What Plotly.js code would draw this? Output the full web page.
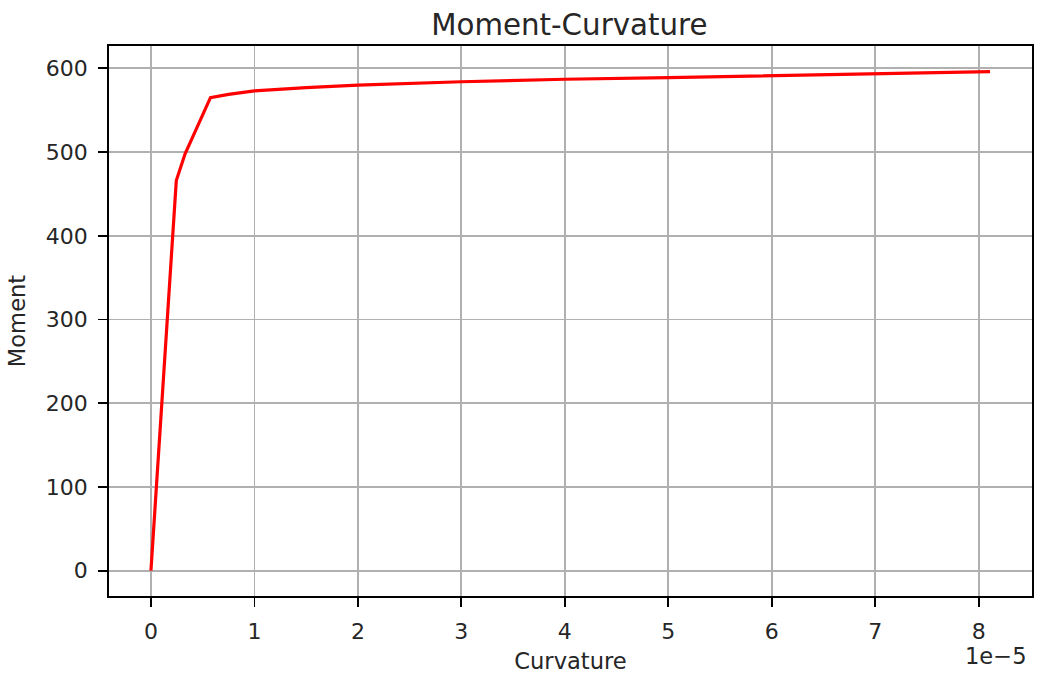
<!DOCTYPE html>
<html>
<head>
<meta charset="utf-8">
<script src="https://cdn.plot.ly/plotly-3.0.1.min.js"></script>
<style>
  html, body { margin: 0; padding: 0; background: #ffffff; }
  #chart { width: 1038px; height: 682px; }
</style>
</head>
<body>
<div id="chart"></div>
<script>
// Data
const curvature = [0, 0.245e-5, 0.33e-5, 0.575e-5, 0.75e-5, 1.0e-5, 1.5e-5, 2.0e-5, 3.0e-5, 4.0e-5, 5.0e-5, 6.0e-5, 7.0e-5, 8.11e-5];
const moment    = [0, 466, 498, 565, 569, 573, 577, 580, 584, 587, 589, 591.5, 594, 596];

const xTickVals = [0, 1e-5, 2e-5, 3e-5, 4e-5, 5e-5, 6e-5, 7e-5, 8e-5];
const xTickText = ['0', '1', '2', '3', '4', '5', '6', '7', '8'];
const yTickVals = [0, 100, 200, 300, 400, 500, 600];
const yTickText = ['0', '100', '200', '300', '400', '500', '600'];

const FONT = 'DejaVu Sans, Verdana, sans-serif';
const TXT = '#262626';

const trace = {
  x: curvature,
  y: moment,
  type: 'scatter',
  mode: 'lines',
  line: { color: '#ff0000', width: 3.2 },
  hoverinfo: 'skip'
};

const axisCommon = {
  showline: true,
  linecolor: '#000000',
  linewidth: 1.8,
  mirror: true,
  showgrid: true,
  gridcolor: '#b0b0b0',
  gridwidth: 1.8,
  zeroline: false,
  ticks: 'outside',
  ticklen: 9,
  tickwidth: 1.8,
  tickcolor: '#000000',
  tickfont: { family: FONT, size: 22, color: TXT }
};

const layout = {
  width: 1038,
  height: 682,
  paper_bgcolor: '#ffffff',
  plot_bgcolor: '#ffffff',
  margin: { l: 109, r: 6, t: 46, b: 86 },
  showlegend: false,
  title: {
    text: 'Moment-Curvature',
    font: { family: FONT, size: 29.3, color: TXT },
    x: 0.5485, xref: 'container', xanchor: 'center',
    y: 0.964, yref: 'container', yanchor: 'middle'
  },
  xaxis: Object.assign({}, axisCommon, {
    range: [-0.4055e-5, 8.5155e-5],
    tickmode: 'array',
    tickvals: xTickVals,
    ticktext: xTickText,
    ticklabelstandoff: 6,
    title: { text: 'Curvature', font: { family: FONT, size: 22.6, color: TXT }, standoff: 10 }
  }),
  yaxis: Object.assign({}, axisCommon, {
    range: [-30.2, 626.7],
    tickmode: 'array',
    tickvals: yTickVals,
    ticktext: yTickText,
    ticklabelstandoff: 6,
    title: { text: 'Moment', font: { family: FONT, size: 22.6, color: TXT }, standoff: 14 }
  }),
  annotations: [{
    text: '1e\u22125',
    xref: 'paper', yref: 'paper',
    x: 0.997, y: -0.109,
    xanchor: 'right', yanchor: 'middle',
    showarrow: false,
    font: { family: FONT, size: 22.6, color: TXT }
  }]
};

Plotly.newPlot('chart', [trace], layout, { displayModeBar: false, staticPlot: true });
</script>
</body>
</html>
